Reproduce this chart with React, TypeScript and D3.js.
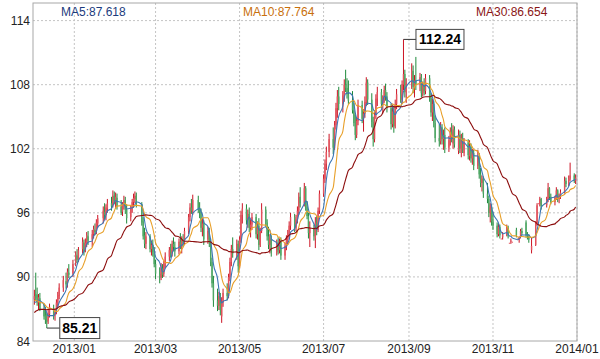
import React from "react";
import * as d3 from "d3";

type Bar = [number, number, number, number]; // open, high, low, close

// closes before the first visible day, only used to seed the moving averages
const priorCloses = [
  84.0, 85.6, 86.0, 85.8, 86.3, 86.7, 86.2, 85.9, 86.4, 86.8, 86.5, 86.0, 85.7, 86.1, 86.4,
  86.9, 86.6, 86.2, 85.9, 86.0, 87.5, 88.2, 88.4, 87.9, 87.55, 87.8, 87.2, 87.6, 87.29,
];

const dec2012: Bar[] = [
  [87.9, 88.8, 87.4, 88.2], [88.4, 90.4, 87.8, 88.0], [88.3, 89.0, 87.3, 87.6], [87.6, 88.4, 86.9, 88.1],
  [88.0, 88.5, 86.8, 87.0], [87.0, 87.5, 86.0, 86.3], [86.4, 87.2, 85.6, 86.0], [86.0, 86.6, 85.21, 85.8],
  [85.9, 86.9, 85.6, 86.6], [86.5, 87.5, 86.2, 87.2], [87.1, 87.4, 86.0, 86.3], [86.4, 87.0, 85.9, 86.8],
  [86.8, 87.9, 86.5, 87.6], [87.5, 88.6, 87.2, 88.3], [88.2, 89.4, 87.9, 89.0], [89.0, 90.1, 88.6, 89.7],
  [89.6, 90.4, 88.9, 89.3], [89.4, 90.8, 89.0, 90.5], [90.4, 91.2, 89.9, 90.2], [90.3, 91.6, 90.0, 91.2],
];
const jan2013: Bar[] = [
  [91.3, 92.4, 91.0, 92.1], [92.0, 92.6, 91.3, 91.6], [91.6, 92.8, 91.4, 92.5], [92.6, 93.7, 92.2, 93.3],
  [93.2, 93.5, 92.0, 92.4], [92.5, 93.6, 92.3, 93.2], [93.1, 94.2, 92.8, 93.9], [93.8, 94.3, 93.0, 93.4],
  [93.5, 94.4, 92.8, 94.0], [94.0, 94.8, 93.6, 94.5], [94.4, 95.0, 93.9, 94.2], [94.3, 95.4, 94.0, 95.1],
  [95.0, 95.8, 94.6, 95.5], [95.5, 96.6, 95.0, 96.2], [96.1, 96.9, 95.4, 95.8], [95.8, 96.8, 95.3, 96.5],
  [96.4, 97.3, 96.0, 96.9], [96.9, 97.5, 96.2, 96.6], [96.7, 98.1, 96.5, 97.6], [97.6, 98.0, 96.8, 97.1],
  [97.0, 97.9, 96.4, 97.5],
];
const feb2013: Bar[] = [
  [97.4, 97.8, 96.3, 96.6], [96.6, 97.2, 95.8, 96.0], [96.1, 97.0, 95.7, 96.8], [96.8, 97.6, 96.3, 97.2],
  [97.2, 97.5, 95.9, 96.3], [96.3, 96.8, 95.0, 95.5], [95.6, 96.7, 95.2, 96.4], [96.4, 97.3, 96.0, 97.0],
  [97.0, 97.8, 96.5, 97.4], [97.3, 98.0, 96.9, 97.6], [97.6, 97.9, 96.5, 96.8], [96.8, 97.0, 94.8, 95.1],
  [95.2, 95.6, 93.5, 93.8], [93.9, 94.6, 92.7, 93.1], [93.1, 94.2, 92.6, 93.8], [93.8, 94.0, 92.3, 92.6],
  [92.6, 93.4, 92.0, 93.0], [93.0, 93.5, 91.9, 92.3], [92.3, 92.8, 90.9, 91.2],
];
const mar2013: Bar[] = [
  [91.2, 91.6, 89.8, 90.3], [90.3, 90.9, 89.4, 89.9], [90.0, 91.3, 89.7, 90.8], [90.8, 91.2, 89.9, 90.2],
  [90.3, 91.5, 90.0, 91.2], [91.2, 92.3, 90.8, 91.9], [91.9, 92.8, 91.5, 92.5], [92.5, 93.1, 91.8, 92.2],
  [92.2, 93.4, 91.9, 93.1], [93.1, 93.7, 92.4, 92.8], [92.8, 93.3, 91.9, 92.4], [92.4, 93.6, 92.1, 93.3],
  [93.3, 94.1, 92.6, 92.9], [92.9, 93.8, 92.2, 93.5], [93.5, 94.0, 92.8, 93.2], [93.2, 94.6, 93.0, 94.3],
  [94.3, 95.9, 94.0, 95.6], [95.6, 96.9, 95.2, 96.5], [96.5, 97.3, 95.9, 96.2], [96.2, 97.7, 95.8, 97.2],
];
const apr2013: Bar[] = [
  [97.2, 97.6, 96.0, 96.4], [96.4, 97.0, 95.5, 96.1], [96.1, 96.4, 94.2, 94.6], [94.6, 95.5, 93.8, 95.0],
  [95.0, 95.3, 93.0, 93.5], [93.5, 94.7, 93.1, 94.3], [94.3, 94.6, 92.8, 93.2], [93.2, 93.6, 91.0, 91.4],
  [91.4, 91.8, 89.0, 89.4], [89.4, 90.1, 87.2, 87.8], [87.8, 88.9, 86.8, 87.3], [87.3, 88.6, 86.9, 88.2],
  [88.2, 88.5, 86.4, 86.9], [86.3, 88.1, 85.7, 87.6], [87.6, 88.9, 87.2, 88.5], [88.5, 89.4, 87.8, 88.2],
  [88.2, 90.3, 88.0, 90.0], [90.0, 91.8, 89.6, 91.4], [91.4, 93.0, 91.0, 92.6], [92.6, 93.7, 91.8, 92.2],
  [92.2, 93.5, 91.6, 93.1], [93.1, 93.4, 90.4, 91.0],
];
const may2013: Bar[] = [
  [91.0, 93.8, 90.8, 93.5], [93.5, 96.2, 93.2, 95.8], [95.8, 96.9, 95.0, 96.4], [96.4, 96.8, 94.9, 95.3],
  [95.3, 96.3, 94.6, 95.9], [95.9, 96.5, 94.2, 94.6], [94.6, 95.4, 93.7, 94.9], [94.9, 96.0, 94.4, 95.6],
  [95.6, 95.9, 93.6, 94.0], [94.0, 95.2, 93.5, 94.8], [94.8, 95.5, 92.5, 93.0], [93.0, 94.6, 92.8, 94.3],
  [94.3, 96.9, 94.1, 96.3], [96.3, 96.6, 94.7, 95.1], [95.1, 95.4, 93.4, 93.8], [93.8, 94.7, 92.6, 93.0],
  [93.0, 94.0, 92.2, 93.6], [93.6, 93.9, 91.9, 92.3], [92.3, 93.5, 92.0, 93.2], [93.2, 93.7, 92.1, 92.5],
  [92.5, 93.6, 92.2, 93.3], [93.3, 93.7, 91.6, 92.0],
];
const jun2013: Bar[] = [
  [92.0, 93.2, 91.6, 92.9], [92.9, 93.9, 92.5, 93.5], [93.5, 94.4, 93.0, 94.1], [94.1, 95.2, 93.7, 94.8],
  [94.8, 96.0, 94.4, 95.6], [95.6, 95.9, 94.2, 94.6], [94.6, 95.8, 94.3, 95.4], [95.4, 96.6, 95.0, 96.2],
  [96.2, 97.9, 95.8, 97.5], [97.5, 98.4, 96.5, 96.9], [96.9, 98.8, 96.6, 98.3], [98.3, 98.5, 96.2, 96.6],
  [96.6, 97.1, 95.4, 95.7], [95.7, 96.0, 93.6, 94.1], [94.1, 95.2, 92.8, 94.6], [94.6, 94.9, 93.4, 93.8],
  [93.6, 95.6, 92.7, 95.1], [95.1, 95.7, 93.9, 94.4], [94.4, 96.5, 94.2, 96.2], [96.2, 98.1, 95.9, 97.8],
];
const jul2013: Bar[] = [
  [97.8, 99.6, 97.5, 99.2], [99.2, 101.0, 98.8, 100.6], [100.6, 102.2, 100.0, 101.7], [101.7, 103.4, 101.2, 102.9],
  [102.9, 104.0, 101.5, 102.1], [102.1, 104.6, 101.9, 104.2], [104.2, 106.3, 103.8, 105.8], [105.8, 107.5, 104.9, 106.9],
  [106.9, 107.8, 105.6, 106.2], [106.2, 107.4, 105.4, 107.0], [107.0, 108.5, 106.4, 108.0], [108.0, 109.4, 107.3, 107.7],
  [107.7, 108.6, 106.7, 107.1], [107.1, 108.4, 106.2, 106.5], [106.5, 107.4, 105.3, 105.6], [105.6, 106.3, 104.1, 104.4],
  [104.4, 105.2, 102.8, 103.3], [103.3, 104.9, 103.0, 104.6], [104.6, 106.6, 104.2, 106.1], [106.1, 106.5, 104.4, 104.8],
  [104.8, 105.7, 103.6, 105.3], [105.3, 106.9, 104.9, 106.4],
];
const aug2013: Bar[] = [
  [106.4, 108.7, 106.0, 108.2], [108.2, 108.5, 106.1, 106.6], [106.6, 107.2, 104.0, 104.5], [104.5, 105.0, 102.2, 102.9],
  [102.9, 105.6, 102.6, 105.2], [105.2, 107.1, 104.8, 106.7], [106.7, 107.8, 106.0, 107.3], [107.3, 107.6, 105.8, 106.2],
  [106.2, 107.0, 105.3, 106.8], [106.8, 107.9, 106.3, 107.5], [107.5, 108.1, 106.5, 106.9], [106.9, 107.3, 105.4, 105.8],
  [105.8, 106.2, 103.8, 104.3], [104.3, 105.9, 104.0, 105.5], [105.5, 106.0, 103.5, 104.1], [104.1, 106.6, 103.9, 106.2],
  [106.2, 107.6, 105.7, 107.1], [107.1, 108.0, 106.3, 106.6], [106.6, 108.4, 106.2, 108.0], [108.0, 112.24, 107.5, 109.0],
  [109.0, 109.4, 106.8, 107.3], [107.3, 108.6, 106.3, 108.2],
];
const sep2013: Bar[] = [
  [108.2, 110.0, 107.6, 109.3], [109.3, 109.8, 107.2, 107.8], [107.8, 108.9, 106.8, 108.4], [108.4, 110.6, 107.5, 108.0],
  [108.0, 109.1, 107.4, 108.7], [108.7, 109.0, 106.8, 107.2], [107.2, 108.3, 106.9, 107.9], [107.9, 108.6, 107.0, 107.4],
  [107.4, 109.0, 107.1, 108.6], [108.6, 108.9, 106.4, 106.8], [106.8, 107.2, 105.0, 105.4], [105.4, 106.7, 104.6, 106.2],
  [106.2, 106.5, 104.0, 104.4], [104.4, 105.1, 102.6, 103.0], [103.0, 104.3, 102.2, 102.7], [102.7, 104.5, 102.4, 104.0],
  [104.0, 104.3, 102.4, 102.9], [102.9, 103.8, 101.9, 103.3], [103.3, 104.0, 101.6, 102.1], [102.1, 103.2, 101.7, 102.8],
];
const oct2013: Bar[] = [
  [102.8, 104.0, 102.3, 103.6], [103.6, 104.4, 102.6, 102.9], [102.5, 104.2, 102.0, 103.8], [103.8, 104.1, 102.1, 102.4],
  [101.8, 103.8, 101.5, 103.3], [103.3, 103.7, 101.6, 102.0], [101.6, 103.4, 101.2, 103.0], [103.0, 103.5, 101.6, 101.9],
  [101.6, 103.0, 101.3, 102.6], [102.6, 102.9, 101.0, 101.4], [101.3, 102.8, 100.9, 102.2], [102.2, 102.5, 100.7, 101.1],
  [101.1, 102.0, 100.5, 101.6], [101.6, 101.9, 100.0, 100.4], [100.4, 101.9, 100.1, 101.3], [101.3, 101.6, 99.2, 99.6],
  [99.6, 100.2, 98.4, 98.8], [98.8, 99.5, 98.0, 99.2], [99.2, 99.4, 97.4, 97.8], [97.8, 98.8, 96.9, 97.3],
  [97.3, 97.6, 95.6, 96.0], [96.0, 96.9, 95.1, 96.5], [96.5, 96.8, 94.8, 95.2],
];
const nov2013: Bar[] = [
  [95.2, 96.1, 94.4, 94.8], [94.8, 95.1, 93.7, 94.0], [94.0, 95.0, 93.8, 94.7], [94.7, 94.9, 93.6, 93.9],
  [93.6, 93.6, 93.6, 93.6], [93.7, 94.2, 93.5, 94.0], [94.0, 94.9, 93.8, 94.6], [94.6, 94.8, 93.6, 93.8],
  [93.2, 93.2, 93.2, 93.2], [93.3, 93.6, 93.1, 93.4], [93.3, 93.3, 93.3, 93.3], [94.4, 94.6, 93.7, 93.9],
  [93.6, 93.6, 93.6, 93.6], [93.5, 93.8, 93.2, 93.7], [93.8, 94.5, 93.6, 94.3], [94.3, 94.6, 93.9, 94.1],
  [95.1, 95.3, 93.7, 93.9], [93.9, 94.2, 93.5, 93.8], [93.8, 94.0, 93.2, 93.5], [92.5, 93.7, 92.2, 92.9],
];
const dec2013: Bar[] = [
  [93.0, 95.2, 92.9, 95.0], [95.0, 96.9, 94.8, 96.7], [96.9, 96.9, 96.9, 96.9], [96.8, 97.5, 96.6, 97.3],
  [97.3, 97.4, 96.3, 96.6], [96.9, 96.9, 96.9, 96.9], [96.7, 97.5, 96.5, 97.2], [97.2, 98.8, 97.0, 98.3],
  [98.3, 98.4, 97.2, 97.5], [97.5, 97.8, 96.8, 97.0], [97.0, 97.6, 96.7, 97.4], [97.4, 98.4, 97.2, 98.1],
  [98.1, 98.2, 97.0, 97.3], [97.3, 97.8, 96.9, 97.6], [97.6, 98.2, 97.3, 97.9], [97.9, 99.4, 97.8, 99.0],
  [99.0, 99.3, 98.4, 98.7], [98.7, 99.5, 98.5, 99.2], [99.2, 100.7, 99.0, 99.5], [99.5, 99.7, 98.8, 99.0],
  [99.0, 99.6, 98.7, 99.3],
];

const months: [Date, Bar[]][] = [
  [new Date(2012, 11, 3), dec2012], [new Date(2013, 0, 1), jan2013], [new Date(2013, 1, 1), feb2013],
  [new Date(2013, 2, 1), mar2013], [new Date(2013, 3, 1), apr2013], [new Date(2013, 4, 1), may2013],
  [new Date(2013, 5, 1), jun2013], [new Date(2013, 6, 1), jul2013], [new Date(2013, 7, 1), aug2013],
  [new Date(2013, 8, 1), sep2013], [new Date(2013, 9, 1), oct2013], [new Date(2013, 10, 1), nov2013],
  [new Date(2013, 11, 1), dec2013],
];
const holidays = [
  "2012-12-25", "2013-01-01", "2013-01-21", "2013-02-18", "2013-03-29",
  "2013-05-27", "2013-07-04", "2013-09-02", "2013-11-28", "2013-12-25",
];

const maNames = ["MA5", "MA10", "MA30"];
const maPeriods = [5, 10, 30];
const maValues = [87.618, 87.764, 86.654];
const maColors = ["#3b76b5", "#e8a02a", "#8c0d0d"];
const maTextColors = ["#1b3b7d", "#c8700c", "#8a1616"];

const yTicks = [84, 90, 96, 102, 108, 114];

const W = 600;
const H = 359;
const left = 33;
const right = 577;
const top = 3;
const bottom = 341;

const fmtDay = d3.timeFormat("%Y-%m-%d");

interface Day { date: Date; o: number; h: number; l: number; c: number; }

const days: Day[] = [];
months.forEach(([start, bars]) => {
  const end = d3.timeMonth.offset(d3.timeMonth.floor(start), 1);
  const dates = d3.timeDay
    .range(start, end)
    .filter((d) => d.getDay() > 0 && d.getDay() < 6 && !holidays.includes(fmtDay(d)));
  bars.forEach((b, i) => {
    if (dates[i]) days.push({ date: dates[i], o: b[0], h: b[1], l: b[2], c: b[3] });
  });
});

const allCloses = priorCloses.concat(days.map((d) => d.c));
const movingAvg = (n: number) =>
  days.map((d, i) => {
    const j = i + priorCloses.length;
    return d3.mean(allCloses.slice(j - n + 1, j + 1)) as number;
  });

function App() {
  const x = d3.scaleTime().domain([new Date(2012, 11, 2), new Date(2014, 0, 1)]).range([left, right]);
  const y = d3.scaleLinear().domain([84, 114]).range([bottom, 20.6]);
  const xTicks = d3.timeMonth.every(2)!.range(new Date(2013, 0, 1), new Date(2014, 0, 2));
  const fmtMonth = d3.timeFormat("%Y/%m");

  const hi = days[d3.maxIndex(days, (d) => d.h)];
  const lo = days[d3.minIndex(days, (d) => d.l)];
  const f2 = d3.format(".2f");

  const font = "'Liberation Sans', Arial, sans-serif";

  return (
    <svg width={W} height={H} style={{ position: "absolute", left: 0, top: 0, background: "#fff" }}>
      {/* grid */}
      {yTicks.slice(1).map((t) => (
        <line key={"gy" + t} x1={left} x2={right} y1={y(t)} y2={y(t)} stroke="#c4c4c4" strokeDasharray="2,2" />
      ))}
      {xTicks.map((t) => (
        <line key={"gx" + t.getTime()} x1={x(t)} x2={x(t)} y1={top} y2={bottom} stroke="#c4c4c4" strokeDasharray="2,2" />
      ))}
      {/* frame */}
      <rect x={left} y={top} width={right - left} height={bottom - top} fill="none" stroke="#a8a8a8" />

      {/* candles */}
      {days.map((d, i) => {
        const up = d.c >= d.o;
        const cx = x(d.date);
        const y0 = y(Math.max(d.o, d.c));
        const hgt = Math.max(1, Math.abs(y(d.o) - y(d.c)));
        return (
          <g key={i}>
            <line x1={cx} x2={cx} y1={y(d.h)} y2={y(d.l)} stroke={up ? "#cc1424" : "#1f8a3c"} strokeWidth={1} />
            <rect x={cx - 0.7} y={y0} width={1.4} height={hgt} fill={up ? "#e4525c" : "#4fa865"} />
          </g>
        );
      })}

      {/* moving averages */}
      {maPeriods.map((p, k) => {
        const vals = movingAvg(p);
        const line = d3
          .line<number>()
          .x((_, i) => x(days[i].date))
          .y((v) => y(v))
          .curve(d3.curveMonotoneX);
        return <path key={p} d={line(vals) || ""} fill="none" stroke={maColors[k]} strokeWidth={1.1} />;
      })}

      {/* y axis labels */}
      {yTicks.map((t) => (
        <text key={"ty" + t} x={30} y={y(t) + 4.5} textAnchor="end" fontSize={12} fontFamily={font} fill="#222">
          {t}
        </text>
      ))}
      {/* x axis labels */}
      {xTicks.map((t) => (
        <text key={"tx" + t.getTime()} x={x(t)} y={353} textAnchor="middle" fontSize={12} fontFamily={font} fill="#222">
          {fmtMonth(t)}
        </text>
      ))}

      {/* legend */}
      {maNames.map((n, k) => (
        <text key={n} x={[61, 243, 476][k]} y={16} fontSize={12} fontFamily={font} fill={maTextColors[k]}>
          {n + ":" + maValues[k].toFixed(3)}
        </text>
      ))}

      {/* high / low markers */}
      <g>
        <line x1={x(hi.date)} x2={x(hi.date) + 12.5} y1={y(hi.h)} y2={y(hi.h)} stroke="#333" />
        <rect x={x(hi.date) + 12.5} y={y(hi.h) - 10} width={48} height={20} fill="#fff" stroke="#444" />
        <text x={x(hi.date) + 36.5} y={y(hi.h) + 5} textAnchor="middle" fontSize={14} fontWeight="bold" fontFamily={font} fill="#000">
          {f2(hi.h)}
        </text>
        <line x1={x(lo.date)} x2={x(lo.date) + 13} y1={y(lo.l)} y2={y(lo.l)} stroke="#333" />
        <rect x={x(lo.date) + 13} y={y(lo.l) - 10.5} width={40} height={21} fill="#fff" stroke="#444" />
        <text x={x(lo.date) + 33} y={y(lo.l) + 5} textAnchor="middle" fontSize={14} fontWeight="bold" fontFamily={font} fill="#000">
          {f2(lo.l)}
        </text>
      </g>
    </svg>
  );
}

export default App;
